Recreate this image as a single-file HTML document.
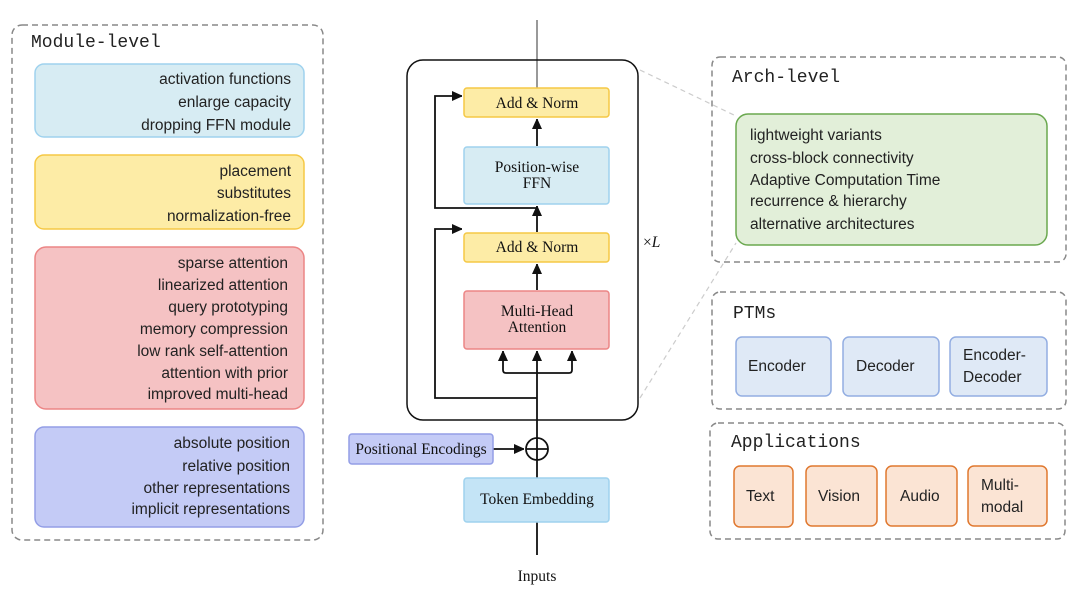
<!DOCTYPE html>
<html><head><meta charset="utf-8"><style>
body{margin:0;background:#fff;width:1080px;height:602px;overflow:hidden}
svg{display:block}
.s{font-family:"Liberation Sans",sans-serif;font-size:15.5px;fill:#222}
.m{font-family:"Liberation Mono",monospace;font-size:18px;fill:#222}
.t{font-family:"Liberation Serif",serif;font-size:15.5px;fill:#111}
</style></head><body>
<svg width="1080" height="602" viewBox="0 0 1080 602" xmlns="http://www.w3.org/2000/svg">
<defs><marker id="b" markerWidth="10" markerHeight="12" refX="10" refY="5" orient="auto" markerUnits="userSpaceOnUse"><path d="M0,0 L11,5 L0,10 z" fill="#111"/></marker></defs>
<!-- left -->
<rect x="12" y="25" width="311" height="515" rx="10" fill="none" stroke="#888" stroke-width="1.5" stroke-dasharray="6,4"/>
<text class="m" x="31" y="47">Module-level</text>
<rect x="35" y="64" width="269" height="73" rx="9" fill="#d7ecf3" stroke="#9fd2ee" stroke-width="1.5"/>
<g class="s" text-anchor="end"><text x="291" y="84">activation functions</text><text x="291" y="107">enlarge capacity</text><text x="291" y="130">dropping FFN module</text></g>
<rect x="35" y="155" width="269" height="74" rx="9" fill="#fdeca6" stroke="#f5c845" stroke-width="1.5"/>
<g class="s" text-anchor="end"><text x="291" y="176">placement</text><text x="291" y="198">substitutes</text><text x="291" y="221">normalization-free</text></g>
<rect x="35" y="247" width="269" height="162" rx="11" fill="#f5c2c3" stroke="#ec8585" stroke-width="1.5"/>
<g class="s" text-anchor="end"><text x="288" y="268">sparse attention</text><text x="288" y="290">linearized attention</text><text x="288" y="312">query prototyping</text><text x="288" y="334">memory compression</text><text x="288" y="356">low rank self-attention</text><text x="288" y="378">attention with prior</text><text x="288" y="399">improved multi-head</text></g>
<rect x="35" y="427" width="269" height="100" rx="9" fill="#c4cbf6" stroke="#939ee6" stroke-width="1.5"/>
<g class="s" text-anchor="end"><text x="290" y="448">absolute position</text><text x="290" y="471">relative position</text><text x="290" y="493">other representations</text><text x="290" y="514">implicit representations</text></g>
<!-- dashed connectors -->
<line x1="640" y1="70" x2="736" y2="116" stroke="#ccc" stroke-width="1.2" stroke-dasharray="5,4"/>
<line x1="640" y1="398" x2="736" y2="243" stroke="#ccc" stroke-width="1.2" stroke-dasharray="5,4"/>
<!-- center -->
<line x1="537" y1="20" x2="537" y2="88" stroke="#999" stroke-width="2"/>
<rect x="407" y="60" width="231" height="360" rx="16" fill="none" stroke="#111" stroke-width="1.5"/>
<g stroke="#111" stroke-width="1.8" fill="none">
<line x1="537" y1="146" x2="537" y2="119" marker-end="url(#b)"/>
<line x1="537" y1="232" x2="537" y2="206" marker-end="url(#b)"/>
<line x1="537" y1="290" x2="537" y2="264" marker-end="url(#b)"/>
<line x1="537" y1="555" x2="537" y2="351" marker-end="url(#b)"/>
<path d="M537,208 H435 V96 H462" marker-end="url(#b)"/>
<path d="M537,398 H435 V229 H462" marker-end="url(#b)"/>
<path d="M537,373 H506 Q503,373 503,370 V351" marker-end="url(#b)"/>
<path d="M537,373 H569 Q572,373 572,370 V351" marker-end="url(#b)"/>
<line x1="493" y1="449" x2="524" y2="449" marker-end="url(#b)"/>
<circle cx="537" cy="449" r="11" fill="#fff"/>
<line x1="526" y1="449" x2="548" y2="449"/>
<line x1="537" y1="438" x2="537" y2="460"/>
</g>
<rect x="464" y="88" width="145" height="29" rx="3" fill="#fdeca6" stroke="#f5c845" stroke-width="1.5"/>
<text class="t" x="537" y="108" text-anchor="middle">Add &amp; Norm</text>
<rect x="464" y="147" width="145" height="57" rx="3" fill="#d7ecf3" stroke="#9fd2ee" stroke-width="1.5"/>
<text class="t" x="537" y="172" text-anchor="middle">Position-wise</text><text class="t" x="537" y="188" text-anchor="middle">FFN</text>
<rect x="464" y="233" width="145" height="29" rx="3" fill="#fdeca6" stroke="#f5c845" stroke-width="1.5"/>
<text class="t" x="537" y="252" text-anchor="middle">Add &amp; Norm</text>
<rect x="464" y="291" width="145" height="58" rx="3" fill="#f5c2c3" stroke="#ec8585" stroke-width="1.5"/>
<text class="t" x="537" y="316" text-anchor="middle">Multi-Head</text><text class="t" x="537" y="332" text-anchor="middle">Attention</text>
<rect x="349" y="434" width="144" height="30" rx="3" fill="#c4cbf6" stroke="#939ee6" stroke-width="1.5"/>
<text class="t" x="421" y="454" text-anchor="middle" font-size="15">Positional Encodings</text>
<rect x="464" y="478" width="145" height="44" rx="3" fill="#c4e4f6" stroke="#9fd2ee" stroke-width="1.5"/>
<text class="t" x="537" y="504" text-anchor="middle">Token Embedding</text>
<text class="t" x="537" y="581" text-anchor="middle">Inputs</text>
<text class="t" x="643" y="247" font-size="17"><tspan>×</tspan><tspan font-style="italic">L</tspan></text>
<!-- right -->
<rect x="712" y="57" width="354" height="205" rx="8" fill="none" stroke="#888" stroke-width="1.5" stroke-dasharray="6,4"/>
<text class="m" x="732" y="82">Arch-level</text>
<rect x="736" y="114" width="311" height="131" rx="12" fill="#e2efd9" stroke="#6aa84f" stroke-width="1.5"/>
<g class="s"><text x="750" y="140">lightweight variants</text><text x="750" y="163">cross-block connectivity</text><text x="750" y="185">Adaptive Computation Time</text><text x="750" y="206">recurrence &amp; hierarchy</text><text x="750" y="229">alternative architectures</text></g>
<rect x="712" y="292" width="354" height="117" rx="8" fill="none" stroke="#888" stroke-width="1.5" stroke-dasharray="6,4"/>
<text class="m" x="733" y="318">PTMs</text>
<g fill="#dfe9f6" stroke="#93aee2" stroke-width="1.5"><rect x="736" y="337" width="95" height="59" rx="6"/><rect x="843" y="337" width="96" height="59" rx="6"/><rect x="950" y="337" width="97" height="59" rx="6"/></g>
<g class="s"><text x="748" y="371">Encoder</text><text x="856" y="371">Decoder</text><text x="963" y="360">Encoder-</text><text x="963" y="382">Decoder</text></g>
<rect x="710" y="423" width="355" height="116" rx="8" fill="none" stroke="#888" stroke-width="1.5" stroke-dasharray="6,4"/>
<text class="m" x="731" y="447">Applications</text>
<g fill="#fbe4d4" stroke="#e0782f" stroke-width="1.5"><rect x="734" y="466" width="59" height="61" rx="6"/><rect x="806" y="466" width="71" height="60" rx="6"/><rect x="886" y="466" width="71" height="60" rx="6"/><rect x="968" y="466" width="79" height="60" rx="6"/></g>
<g class="s"><text x="746" y="501">Text</text><text x="818" y="501">Vision</text><text x="900" y="501">Audio</text><text x="981" y="490">Multi-</text><text x="981" y="512">modal</text></g>
</svg>
</body></html>
